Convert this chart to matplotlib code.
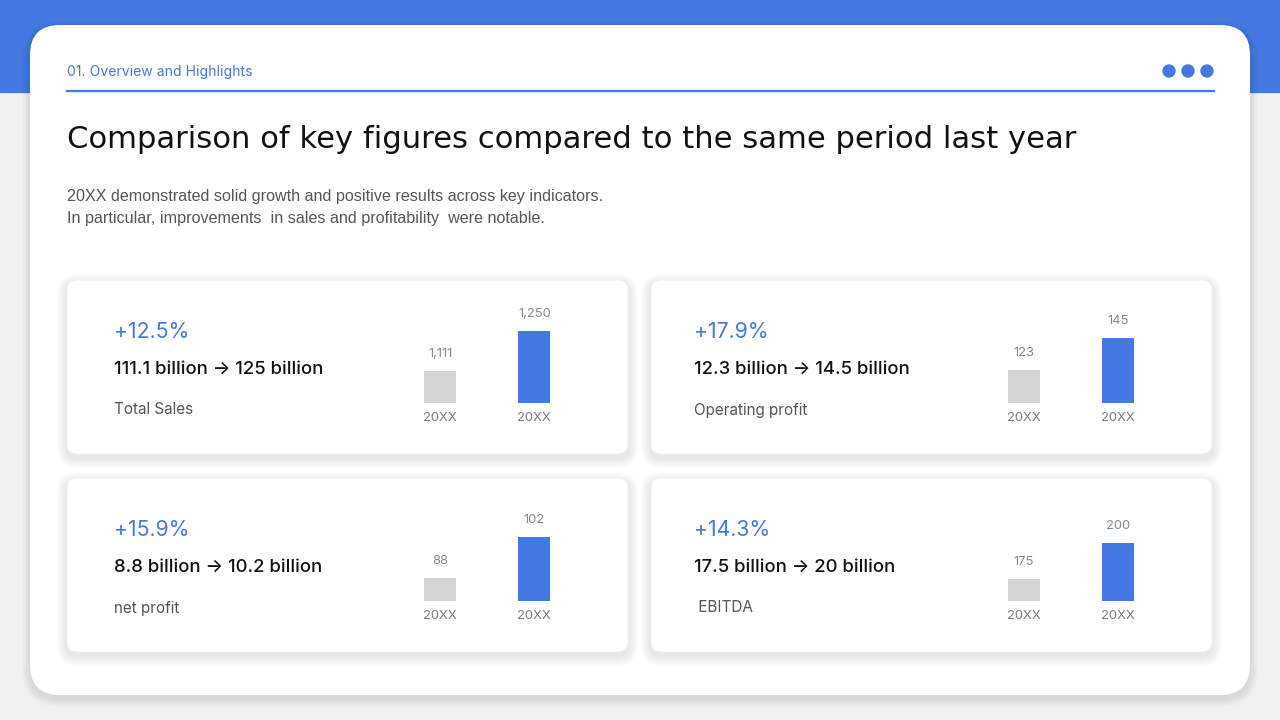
import matplotlib
matplotlib.use("Agg")
import matplotlib.pyplot as plt
from matplotlib.patches import FancyBboxPatch, Rectangle, Circle

# ---- data ----
metrics = ["Total Sales", "Operating profit", "net profit", " EBITDA"]
prev_billion = [111.1, 12.3, 8.8, 17.5]
curr_billion = [125, 14.5, 10.2, 20]
bar_prev = [1111, 123, 88, 175]
bar_curr = [1250, 145, 102, 200]
bar_labels = ["20XX", "20XX"]
# value range shown by each mini chart (truncated axis, as in the original)
y_floor = [1000, 100, 80, 160]
y_ceil = [1347, 169.2, 114.4, 229]

header = "01. Overview and Highlights"
title = "Comparison of key figures compared to the same period last year"
subtitle = [
    "20XX demonstrated solid growth and positive results across key indicators.",
    "In particular, improvements  in sales and profitability  were notable.",
]

BLUE = "#4479e1"
GRAY_BAR = "#d5d5d5"
W, H = 1280, 720

fig = plt.figure(figsize=(12.8, 7.2), dpi=100)
fig.patch.set_facecolor("#f1f1f1")
bg = fig.add_axes([0, 0, 1, 1])
bg.set_xlim(0, W)
bg.set_ylim(H, 0)
bg.axis("off")

# top band
bg.add_patch(Rectangle((0, 0), W, 92, color=BLUE, zorder=0))


def soft_box(x, y, w, h, r, layers, spread, dy, alpha, z, ec="none"):
    for i in range(layers, 0, -1):
        p = i * spread / layers
        bg.add_patch(FancyBboxPatch(
            (x - p, y - p + dy), w + 2 * p, h + 2 * p,
            boxstyle=f"round,pad=0,rounding_size={r + p}",
            fc="#000000", ec="none", alpha=alpha, zorder=z))
    bg.add_patch(FancyBboxPatch(
        (x, y), w, h, boxstyle=f"round,pad=0,rounding_size={r}",
        fc="white", ec=ec, lw=0.6, zorder=z + 1))


# main panel
soft_box(30, 25, 1220, 670, 30, 6, 8, 4, 0.015, z=1)

# header
fam = ["Inter", "DejaVu Sans"]
bg.text(67, 72, header, color=BLUE, fontsize=10.1, family=fam,
        va="center", ha="left", zorder=6)
bg.plot([67, 1214], [91, 91], color=BLUE, lw=1.6, zorder=6)
for cx in (1169, 1188, 1207):
    bg.add_patch(Circle((cx, 71), 6, color=BLUE, zorder=6))

bg.text(67, 140, title, color="#111111", fontsize=22.1, family=["DejaVu Sans"],
        va="center", ha="left", zorder=6)
for i, line in enumerate(subtitle):
    bg.text(67, 196 + 23 * i, line, color="#555555", fontsize=11.6,
            family=["Liberation Sans", "DejaVu Sans"], va="center", ha="left", zorder=6)

# cards
card_pos = [(67, 280), (651, 280), (67, 478), (651, 478)]
text_dx = [47, 43, 47, 43]
card_w, card_h = 561, 174

for k, (x0, y0) in enumerate(card_pos):
    soft_box(x0, y0, card_w, card_h, 10, 8, 10, 4, 0.011, z=3, ec="#f0f0f0")

    tx = x0 + text_dx[k]
    pct = (curr_billion[k] / prev_billion[k] - 1) * 100
    bg.text(tx, y0 + 52, f"+{pct:.1f}%", color=BLUE, fontsize=15.3,
            family=fam, va="center", ha="left", zorder=6)
    bg.text(tx, y0 + 89,
            f"{prev_billion[k]:g} billion \u2192 {curr_billion[k]:g} billion",
            color="#111111", fontsize=13.3, fontweight=500, family=fam,
            va="center", ha="left", zorder=6)
    bg.text(tx, y0 + 130, metrics[k], color="#555555", fontsize=11,
            family=fam, va="center", ha="left", zorder=6)

    # mini bar chart, placed in pixel space
    bottom_px = y0 + 123
    left_px = x0 + 326
    ax = fig.add_axes([left_px / W, 1 - bottom_px / H, 188.5 / W, 100 / H])
    ax.set_facecolor("none")
    ax.bar([0, 1], [bar_prev[k], bar_curr[k]], width=0.34,
           color=[GRAY_BAR, BLUE], zorder=3)
    ax.set_xlim(-0.5, 1.5)
    ax.set_ylim(y_floor[k], y_ceil[k])
    for xi, v in enumerate([bar_prev[k], bar_curr[k]]):
        ax.annotate(f"{v:,}", (xi, v), xytext=(0, 12.2), textcoords="offset points",
                    ha="center", va="center", fontsize=9.4, color="#888888",
                    family=fam, annotation_clip=False)
    ax.set_xticks([0, 1], bar_labels)
    ax.tick_params(axis="x", length=0, pad=6.5, labelsize=9.4, labelcolor="#7a7a7a")
    for lab in ax.get_xticklabels():
        lab.set_family(fam)
    ax.set_yticks([])
    for s in ax.spines.values():
        s.set_visible(False)

fig.savefig("out.png", dpi=100, facecolor=fig.get_facecolor())
